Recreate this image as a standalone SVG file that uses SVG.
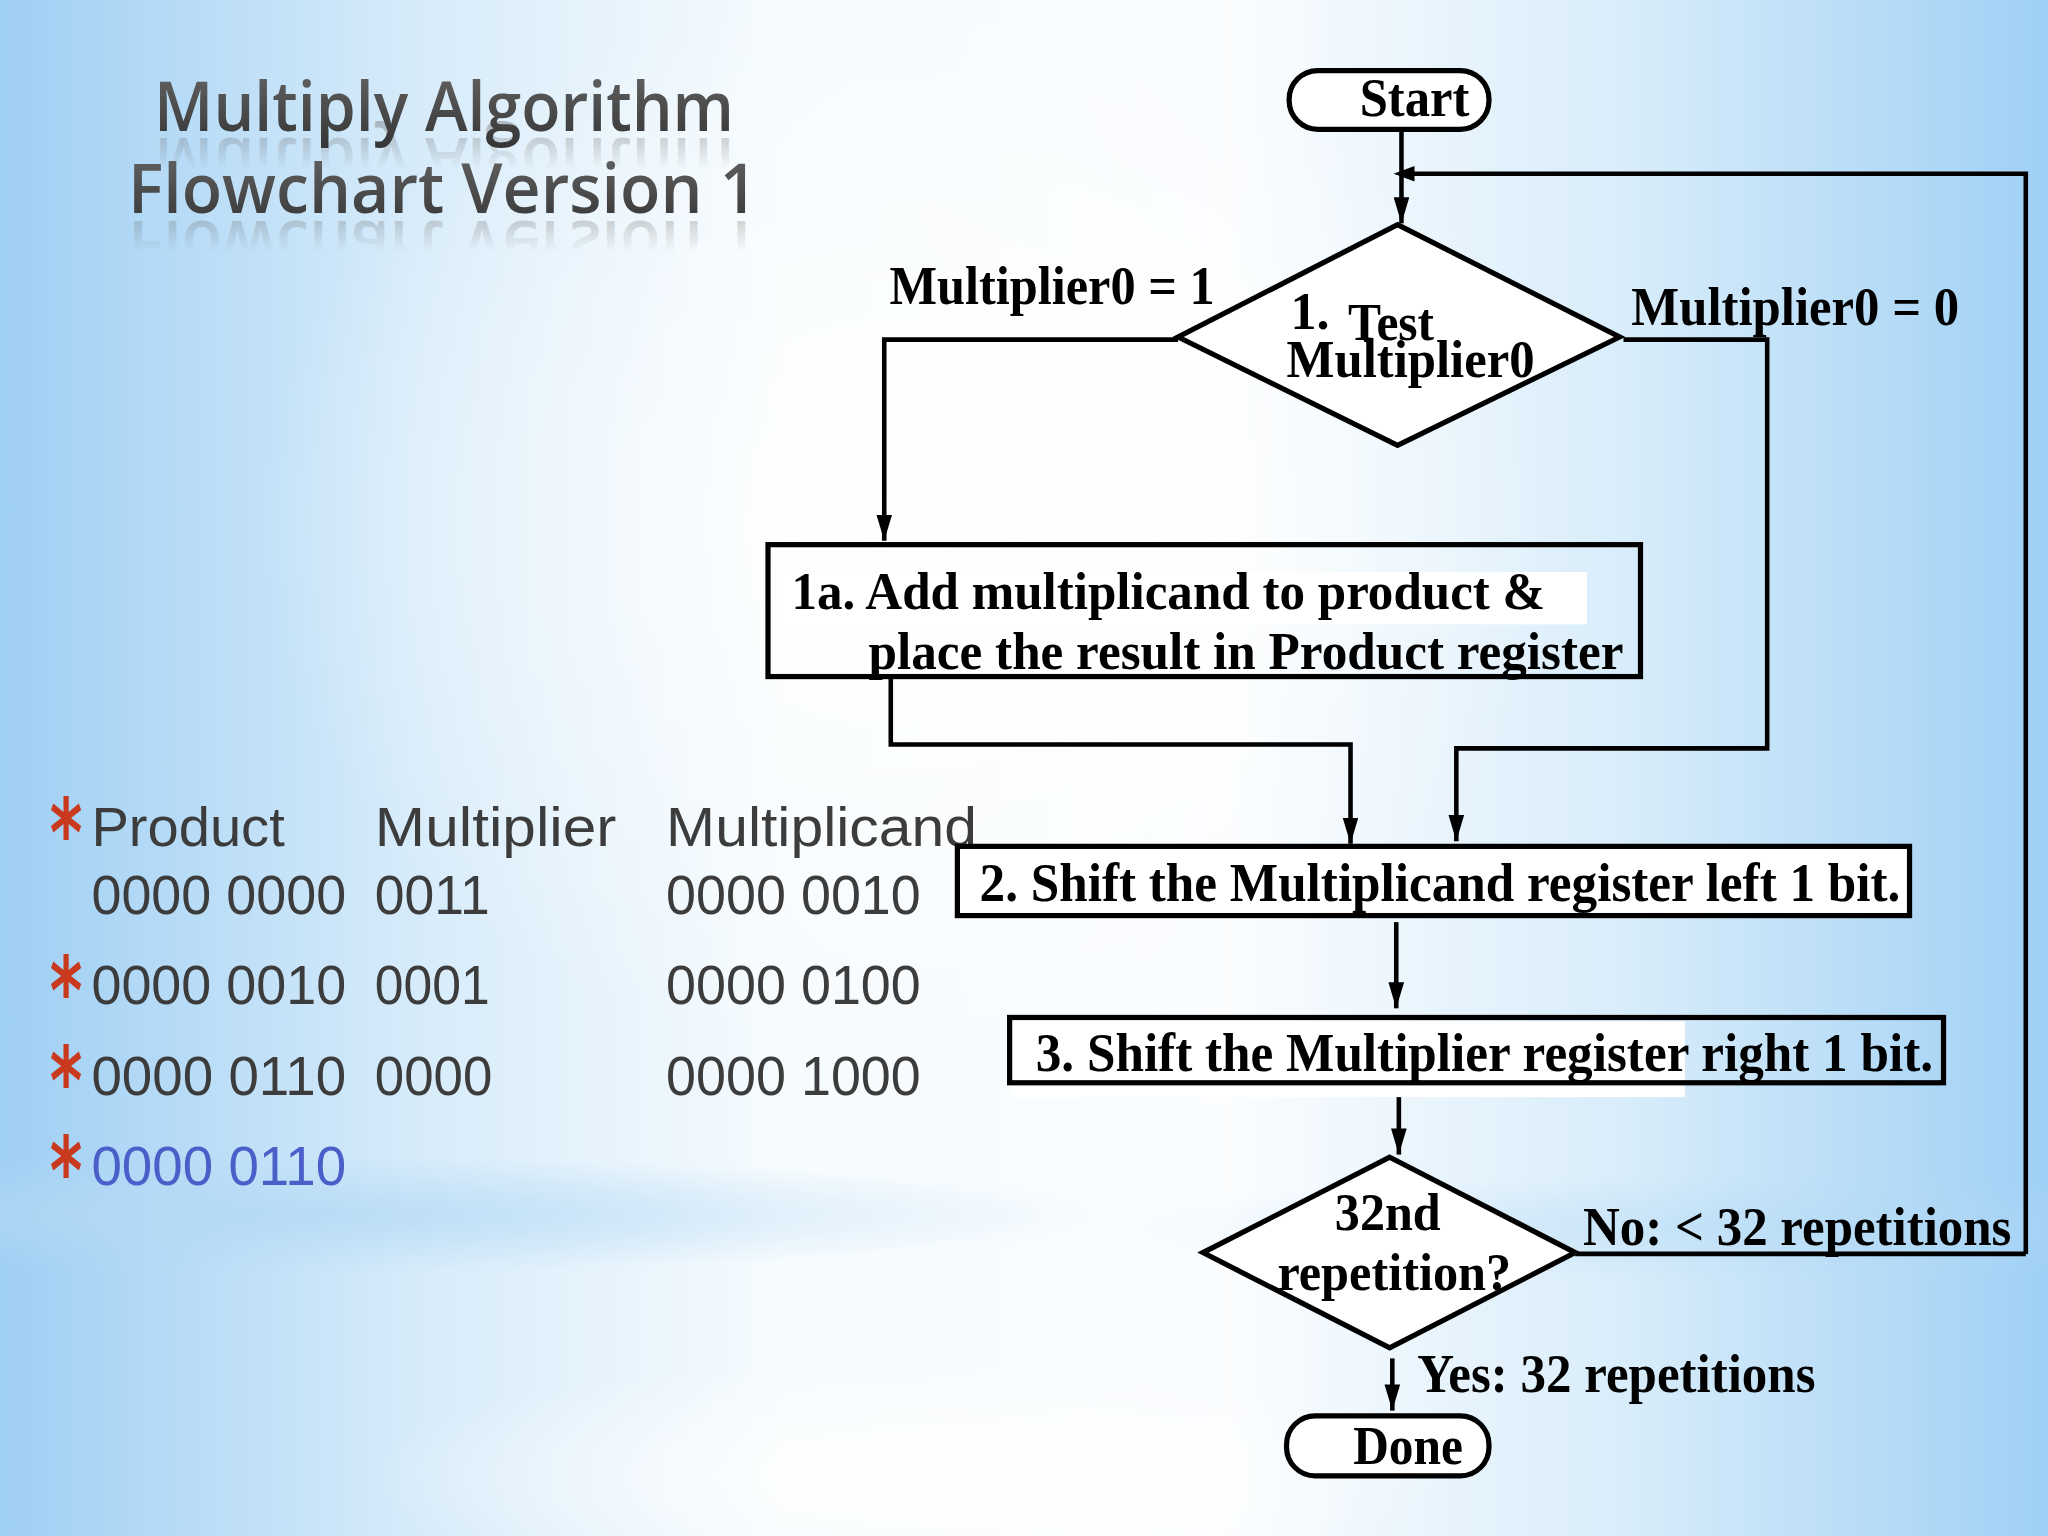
<svg xmlns="http://www.w3.org/2000/svg" width="2048" height="1536" viewBox="0 0 2048 1536">
<defs>
<linearGradient id="bg" x1="0" y1="0" x2="1" y2="0">
<stop offset="0" stop-color="#9fcff4"/>
<stop offset="0.2" stop-color="#d6ebfa"/>
<stop offset="0.38" stop-color="#f6fbfe"/>
<stop offset="0.6" stop-color="#fbfdff"/>
<stop offset="0.8" stop-color="#d7ecfa"/>
<stop offset="1" stop-color="#9fd0f5"/>
</linearGradient>
<radialGradient id="band" cx="0.5" cy="0.5" r="0.5">
<stop offset="0" stop-color="#b3d9f5" stop-opacity="0.8"/>
<stop offset="1" stop-color="#b3d9f5" stop-opacity="0"/>
</radialGradient>
<radialGradient id="glow" cx="0.5" cy="0.5" r="0.5">
<stop offset="0" stop-color="#ffffff" stop-opacity="0.9"/>
<stop offset="1" stop-color="#ffffff" stop-opacity="0"/>
</radialGradient>
<linearGradient id="refl" x1="0" y1="0" x2="0" y2="1">
<stop offset="0" stop-color="#6a6a6a" stop-opacity="0"/>
<stop offset="0.45" stop-color="#6a6a6a" stop-opacity="0"/>
<stop offset="1" stop-color="#6a6a6a" stop-opacity="0.45"/>
</linearGradient>
<linearGradient id="titlefill" x1="0" y1="0" x2="0" y2="1">
<stop offset="0" stop-color="#6a6a6a"/>
<stop offset="1" stop-color="#333333"/>
</linearGradient>
<marker id="arr" markerUnits="userSpaceOnUse" markerWidth="20" markerHeight="12" refX="20" refY="6" orient="auto" viewBox="0 0 20 12">
<path d="M0,0 L20,6 L0,12 z" fill="#000"/>
</marker>
<style>
.t{font-family:"Liberation Sans","Open Sans",sans-serif;font-size:43px;fill:#3c3c3c}
.b{fill:#4a5fc8}
.ast{font-family:"DejaVu Sans","Liberation Sans",sans-serif;font-size:72px;font-weight:bold;fill:#c8391e}
.title{font-family:"Open Sans","Liberation Sans",sans-serif;font-weight:600;font-size:52px;fill:url(#titlefill)}
.rt{font-family:"Open Sans","Liberation Sans",sans-serif;font-weight:600;font-size:52px;fill:url(#refl)}
.f{font-family:"Liberation Serif","Times New Roman",serif;font-weight:bold;font-size:40px;fill:#000}
.big{font-size:42px}
.shape{fill:none;stroke:#000;stroke-width:4}
.dia{fill:#fff;stroke:#000;stroke-width:4;stroke-linejoin:miter}
.term{fill:#fff;stroke:#000;stroke-width:4}
.ln{fill:none;stroke:#000;stroke-width:3.5}
.pad{fill:#fff}
</style>
</defs>
<rect width="2048" height="1536" fill="url(#bg)"/>
<g transform="scale(1.306122)">
<ellipse cx="700" cy="400" rx="500" ry="420" fill="url(#glow)"/>
<ellipse cx="700" cy="1130" rx="420" ry="90" fill="url(#glow)"/>
<ellipse cx="200" cy="930" rx="650" ry="45" fill="url(#band)"/>
<ellipse cx="1350" cy="940" rx="500" ry="40" fill="url(#band)" opacity="0.6"/>

<g id="title">
<text class="rt" x="118" y="100" textLength="444" lengthAdjust="spacingAndGlyphs" transform="translate(0,206) scale(1,-1)">Multiply Algorithm</text>
<text class="rt" x="98" y="163" textLength="482" lengthAdjust="spacingAndGlyphs" transform="translate(0,332) scale(1,-1)">Flowchart Version 1</text>
<text class="title" x="118" y="100" textLength="444" lengthAdjust="spacingAndGlyphs">Multiply Algorithm</text>
<text class="title" x="98" y="163" textLength="482" lengthAdjust="spacingAndGlyphs">Flowchart Version 1</text>
</g>

<g id="table">
<text class="ast" x="38" y="663" textLength="25" lengthAdjust="spacingAndGlyphs">*</text>
<text class="ast" x="38" y="784" textLength="25" lengthAdjust="spacingAndGlyphs">*</text>
<text class="ast" x="38" y="853" textLength="25" lengthAdjust="spacingAndGlyphs">*</text>
<text class="ast" x="38" y="922" textLength="25" lengthAdjust="spacingAndGlyphs">*</text>
<text class="t" x="70" y="648" textLength="148" lengthAdjust="spacingAndGlyphs">Product</text>
<text class="t" x="287" y="648" textLength="185" lengthAdjust="spacingAndGlyphs">Multiplier</text>
<text class="t" x="510" y="648" textLength="238" lengthAdjust="spacingAndGlyphs">Multiplicand</text>
<text class="t" x="70" y="700" textLength="195" lengthAdjust="spacingAndGlyphs">0000 0000</text>
<text class="t" x="287" y="700" textLength="88" lengthAdjust="spacingAndGlyphs">0011</text>
<text class="t" x="510" y="700" textLength="195" lengthAdjust="spacingAndGlyphs">0000 0010</text>
<text class="t" x="70" y="769" textLength="195" lengthAdjust="spacingAndGlyphs">0000 0010</text>
<text class="t" x="287" y="769" textLength="88" lengthAdjust="spacingAndGlyphs">0001</text>
<text class="t" x="510" y="769" textLength="195" lengthAdjust="spacingAndGlyphs">0000 0100</text>
<text class="t" x="70" y="838" textLength="195" lengthAdjust="spacingAndGlyphs">0000 0110</text>
<text class="t" x="287" y="838" textLength="90" lengthAdjust="spacingAndGlyphs">0000</text>
<text class="t" x="510" y="838" textLength="195" lengthAdjust="spacingAndGlyphs">0000 1000</text>
<text class="t b" x="70" y="907" textLength="195" lengthAdjust="spacingAndGlyphs">0000 0110</text>
</g>

<g id="connectors">
<line class="ln" x1="1073" y1="99" x2="1073" y2="171" marker-end="url(#arr)"/>
<polyline class="ln" points="1551,960 1551,133 1082,133"/>
<path d="M1067,133 L1083,127 L1083,139 z" fill="#000"/>
<polyline class="ln" points="902,260 677,260 677,414" marker-end="url(#arr)"/>
<polyline class="ln" points="1243,260 1353,260 1353,573 1115,573 1115,644" marker-end="url(#arr)"/>
<polyline class="ln" points="682,518 682,570 1034,570 1034,646" marker-end="url(#arr)"/>
<line class="ln" x1="1069" y1="706" x2="1069" y2="772" marker-end="url(#arr)"/>
<line class="ln" x1="1071" y1="836" x2="1071" y2="884" marker-end="url(#arr)"/>
<line class="ln" x1="1206" y1="960" x2="1551" y2="960"/>
<line class="ln" x1="1066" y1="1040" x2="1066" y2="1080" marker-end="url(#arr)"/>
<text class="f big" x="681" y="233" textLength="249" lengthAdjust="spacingAndGlyphs">Multiplier0 = 1</text>
<text class="f big" x="1249" y="249" textLength="251" lengthAdjust="spacingAndGlyphs">Multiplier0 = 0</text>
<text class="f big" x="1212" y="953" textLength="328" lengthAdjust="spacingAndGlyphs">No: &lt; 32 repetitions</text>
<text class="f big" x="1085" y="1066" textLength="305" lengthAdjust="spacingAndGlyphs">Yes: 32 repetitions</text>
</g>

<g id="start">
<rect class="term" x="987" y="54" width="153" height="45" rx="22"/>
<text class="f big" x="1041" y="89" textLength="84" lengthAdjust="spacingAndGlyphs">Start</text>
</g>

<g id="test">
<polygon class="dia" points="1070,172 1240,258 1070,341 902,258"/>
<text class="f" x="988" y="252" font-size="36">1.</text>
<text class="f" x="1032" y="260" textLength="66" lengthAdjust="spacingAndGlyphs">Test</text>
<text class="f" x="985" y="289" textLength="190" lengthAdjust="spacingAndGlyphs">Multiplier0</text>
</g>

<g id="add">
<rect class="pad" x="600" y="438" width="615" height="40"/>
<rect class="shape" x="588" y="417" width="668" height="101"/>
<text class="f" x="606" y="466" textLength="577" lengthAdjust="spacingAndGlyphs">1a. Add multiplicand to product &amp;</text>
<text class="f" x="665" y="512" textLength="578" lengthAdjust="spacingAndGlyphs">place the result in Product register</text>
</g>

<g id="shiftMcand">
<rect class="pad" x="735" y="650" width="725" height="49"/>
<rect class="shape" x="733" y="648" width="729" height="53"/>
<text class="f big" x="750" y="690" textLength="705" lengthAdjust="spacingAndGlyphs">2. Shift the Multiplicand register left 1 bit.</text>
</g>

<g id="shiftMplier">
<rect class="pad" x="775" y="782" width="515" height="58"/>
<rect class="shape" x="773" y="779" width="715" height="50"/>
<text class="f big" x="793" y="820" textLength="687" lengthAdjust="spacingAndGlyphs">3. Shift the Multiplier register right 1 bit.</text>
</g>

<g id="repeat">
<polygon class="dia" points="1064,886 1206,959 1064,1032 921,959"/>
<text class="f" x="1022" y="942" textLength="81" lengthAdjust="spacingAndGlyphs">32nd</text>
<text class="f" x="978" y="988" textLength="179" lengthAdjust="spacingAndGlyphs">repetition?</text>
</g>

<g id="done">
<rect class="term" x="985" y="1084" width="155" height="46" rx="22"/>
<text class="f big" x="1036" y="1121" textLength="84" lengthAdjust="spacingAndGlyphs">Done</text>
</g>
</g>
</svg>
